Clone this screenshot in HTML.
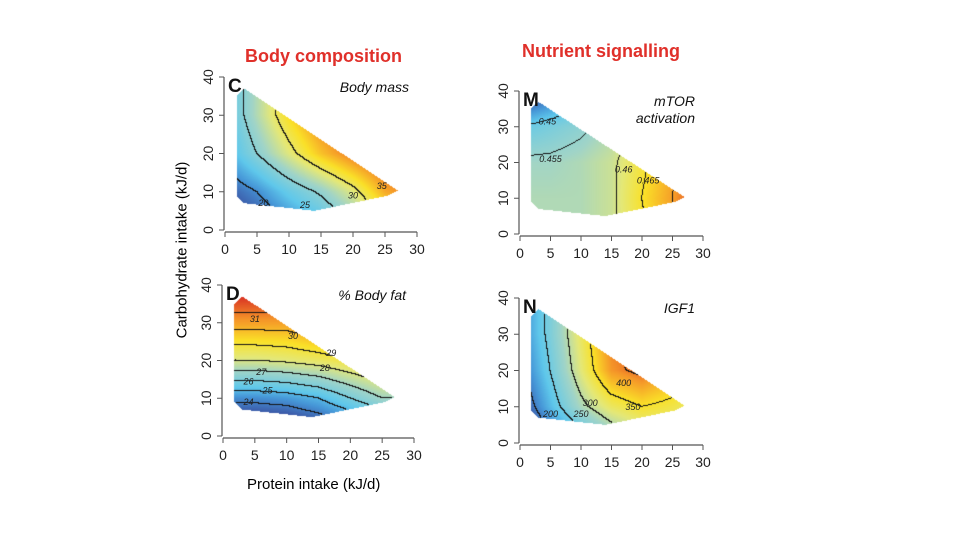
<!DOCTYPE html>
<html><head><meta charset="utf-8">
<style>
html,body{margin:0;padding:0;background:#fff;}
#root{position:relative;width:960px;height:540px;overflow:hidden;font-family:"Liberation Sans",sans-serif;}
.t{position:absolute;white-space:nowrap;}
</style></head>
<body>
<div id="root">
<div class="t" style="left:245px;top:46px;font-size:18px;font-weight:bold;color:#e0302a;">Body composition</div>
<div class="t" style="left:522px;top:41px;font-size:18px;font-weight:bold;color:#e0302a;">Nutrient signalling</div>
<div class="t" style="left:182px;top:250px;font-size:15px;transform:translate(-50%,-50%) rotate(-90deg);">Carbohydrate intake (kJ/d)</div>
<div class="t" style="left:247px;top:476px;font-size:15px;">Protein intake (kJ/d)</div>
<svg id="svg" width="960" height="540" style="position:absolute;left:0;top:0;"></svg>
</div>
<script>
// shared grid axes (data coords)
const gridX = [0,5,10,15,20,25,30];
const gridY = [0,10,20,30,40];
const xTicks = [0,5,10,15,20,25,30];
const yTicks = [0,10,20,30,40];
const regionPoly = [[1.8,9],[1.8,35],[3,37],[27,10.3],[25.5,9],[14,5],[3,7]];
// panel C body mass
const bodyMass = [
 [16,17,19,21,24,28,31],
 [18,20,23,25.5,29,34,36],
 [21,25,29,33,36,38,38],
 [22,27,32,36,38,39,39],
 [22,27,32,36,38,39,39]];
const bodyMassLevels = [20,25,30,35];
// panel D body fat
const bodyFat = [
 [22,22,22,22.5,23,23.5,24],
 [24.3,24.3,24.5,25,26,27,27],
 [28,28,28.2,28.5,29,29.5,30],
 [30.5,30.5,30.5,31,31,31,31],
 [32.5,32.5,32.5,32.5,32.5,32.5,32.5]];
const bodyFatLevels = [24,25,26,27,28,29,30,31];
// panel M mTOR
const mtor = [
 [.457,.457,.457,.459,.464,.469,.474],
 [.457,.457,.457,.459,.465,.470,.476],
 [.456,.456,.457,.459,.464,.469,.474],
 [.450,.452,.454,.457,.462,.467,.472],
 [.437,.442,.448,.455,.460,.465,.470]];
const mtorLevels = [0.45,0.455,0.46,0.465,0.47];
// panel N IGF1
const igf1 = [
 [150,180,220,260,290,300,300],
 [170,230,290,330,350,340,320],
 [190,250,320,390,410,380,340],
 [200,260,330,400,420,390,350],
 [200,260,330,400,420,390,350]];
const igf1Levels = [200,250,300,350,400];

const panels = [
 {id:'c',letter:'C',label:['Body mass'],x0:225,x1:417,y0:230,y1:77,vals:bodyMass,levels:bodyMassLevels,lo:17,hi:38,
  clabels:[['20',6,7],['25',12.5,6.5],['30',20,9],['35',24.5,11.5]]},
 {id:'d',letter:'D',label:['% Body fat'],x0:223,x1:414,y0:436,y1:285,vals:bodyFat,levels:bodyFatLevels,lo:23,hi:32,
  clabels:[['31',5,31],['30',11,26.5],['29',17,22],['28',16,18],['27',6,17],['26',4,14.5],['25',7,12],['24',4,9]]},
 {id:'m',letter:'M',label:['mTOR','activation'],x0:520,x1:703,y0:234,y1:91,vals:mtor,levels:mtorLevels,lo:0.44,hi:0.476,
  clabels:[['0.45',4.5,31.5],['0.455',5,21],['0.46',17,18],['0.465',21,15]]},
 {id:'n',letter:'N',label:['IGF1'],x0:520,x1:703,y0:443,y1:298,vals:igf1,levels:igf1Levels,lo:170,hi:430,
  clabels:[['200',5,8],['250',10,8],['300',11.5,11],['350',18.5,10],['400',17,16.5]]}
];

const stops=[[0,[55,60,145]],[0.16,[70,150,215]],[0.26,[95,200,235]],[0.44,[160,212,200]],[0.58,[228,232,120]],[0.7,[250,225,40]],[0.85,[245,150,40]],[1,[215,40,35]]];
function cmap(t){t=Math.max(0,Math.min(1,t));for(let i=1;i<stops.length;i++){if(t<=stops[i][0]){const a=stops[i-1],b=stops[i];const f=(t-a[0])/(b[0]-a[0]);return a[1].map((v,k)=>Math.round(v+(b[1][k]-v)*f));}}return stops[stops.length-1][1];}
function field(vals,x,y){
  let i=Math.min(gridX.length-2,Math.max(0,Math.floor(x/5))), j=Math.min(gridY.length-2,Math.max(0,Math.floor(y/10)));
  const fx=(x-gridX[i])/5, fy=(y-gridY[j])/10;
  const a=vals[j][i],b=vals[j][i+1],c=vals[j+1][i],d=vals[j+1][i+1];
  return a*(1-fx)*(1-fy)+b*fx*(1-fy)+c*(1-fx)*fy+d*fx*fy;
}
function inPoly(x,y){let ins=false;for(let i=0,j=regionPoly.length-1;i<regionPoly.length;j=i++){const [xi,yi]=regionPoly[i],[xj,yj]=regionPoly[j];if(((yi>y)!=(yj>y))&&(x<(xj-xi)*(y-yi)/(yj-yi)+xi))ins=!ins;}return ins;}
function lvlIdx(levels,v){let k=0;for(const l of levels){if(v>=l)k++;}return k;}

const NS='http://www.w3.org/2000/svg';
const svg=document.getElementById('svg');
function mk(tag,attrs,parent){const e=document.createElementNS(NS,tag);for(const k in attrs)e.setAttribute(k,attrs[k]);(parent||svg).appendChild(e);return e;}

panels.forEach(p=>{
  const sx=v=>p.x0+(p.x1-p.x0)*v/30, sy=v=>p.y0+(p.y1-p.y0)*v/40;
  const g=mk('g',{});
  
  
  const W=Math.round(p.x1-p.x0), H=Math.round(p.y0-p.y1);
  const cv=document.createElement('canvas');cv.width=W;cv.height=H;
  const ctx=cv.getContext('2d');const img=ctx.createImageData(W,H);
  const dx=30/W, dy=40/H;
  const F=[],I=[];
  for(let py=0;py<H;py++){F.push([]);I.push([]);for(let px=0;px<W;px++){const x=(px+0.5)*dx,y=(H-py-0.5)*dy;const ins=inPoly(x,y);const v=field(p.vals,x,y);F[py].push(ins?v:null);I[py].push(ins?lvlIdx(p.levels,v):null);}}
  for(let py=0;py<H;py++)for(let px=0;px<W;px++){const v=F[py][px];if(v===null)continue;let c=cmap((v-p.lo)/(p.hi-p.lo));
    const k=I[py][px];const r=px+1<W?I[py][px+1]:null,d=py+1<H?I[py+1][px]:null;
    if((r!==null&&r!==k)||(d!==null&&d!==k))c=[20,20,20];
    const o=(py*W+px)*4;img.data[o]=c[0];img.data[o+1]=c[1];img.data[o+2]=c[2];img.data[o+3]=255;}
  ctx.putImageData(img,0,0);
  const fo=mk('foreignObject',{x:p.x0,y:p.y1,width:W,height:H},g);
  
  
  cv.style.display='block';fo.appendChild(cv);
  p.clabels.forEach(l=>{const t=mk('text',{x:sx(l[1]),y:sy(l[2])+3,'font-size':9,'font-style':'italic',fill:'#222','text-anchor':'middle','font-family':'Liberation Sans'},g);t.textContent=l[0];
    
    });
  const ya=mk('line',{x1:p.x0-1,x2:p.x0-1,y1:sy(0),y2:sy(40),stroke:'#555','stroke-width':1.2},g);
  
  
  const xa=mk('line',{x1:sx(0),x2:sx(30),y1:p.y0+2,y2:p.y0+2,stroke:'#555','stroke-width':1.2},g);
  
  
  xTicks.forEach(v=>{mk('line',{x1:sx(v),x2:sx(v),y1:p.y0+2,y2:p.y0+7,stroke:'#555'},g);
    const t=mk('text',{x:sx(v),y:p.y0+24,'font-size':14,'text-anchor':'middle','font-family':'Liberation Sans',fill:'#222'},g);t.textContent=v;
    
    });
  yTicks.forEach(v=>{mk('line',{x1:p.x0-6,x2:p.x0-1,y1:sy(v),y2:sy(v),stroke:'#555'},g);
    const t=mk('text',{x:p.x0-12,y:sy(v),'font-size':14,'text-anchor':'middle','font-family':'Liberation Sans',fill:'#222',transform:`rotate(-90 ${p.x0-12} ${sy(v)})`},g);t.textContent=v;
    
    });
  const L=mk('text',{x:p.x0+3,y:p.y1+15,'font-size':19,'font-weight':'bold','font-family':'Liberation Sans',fill:'#111'},g);L.textContent=p.letter;
  
  
  p.label.forEach((s,i)=>{const t=mk('text',{x:p.x1-8,y:p.y1+15+i*17,'font-size':14,'font-style':'italic','text-anchor':'end','font-family':'Liberation Sans',fill:'#111'},g);t.textContent=s;
    
    });
});
</script>
</body></html>
